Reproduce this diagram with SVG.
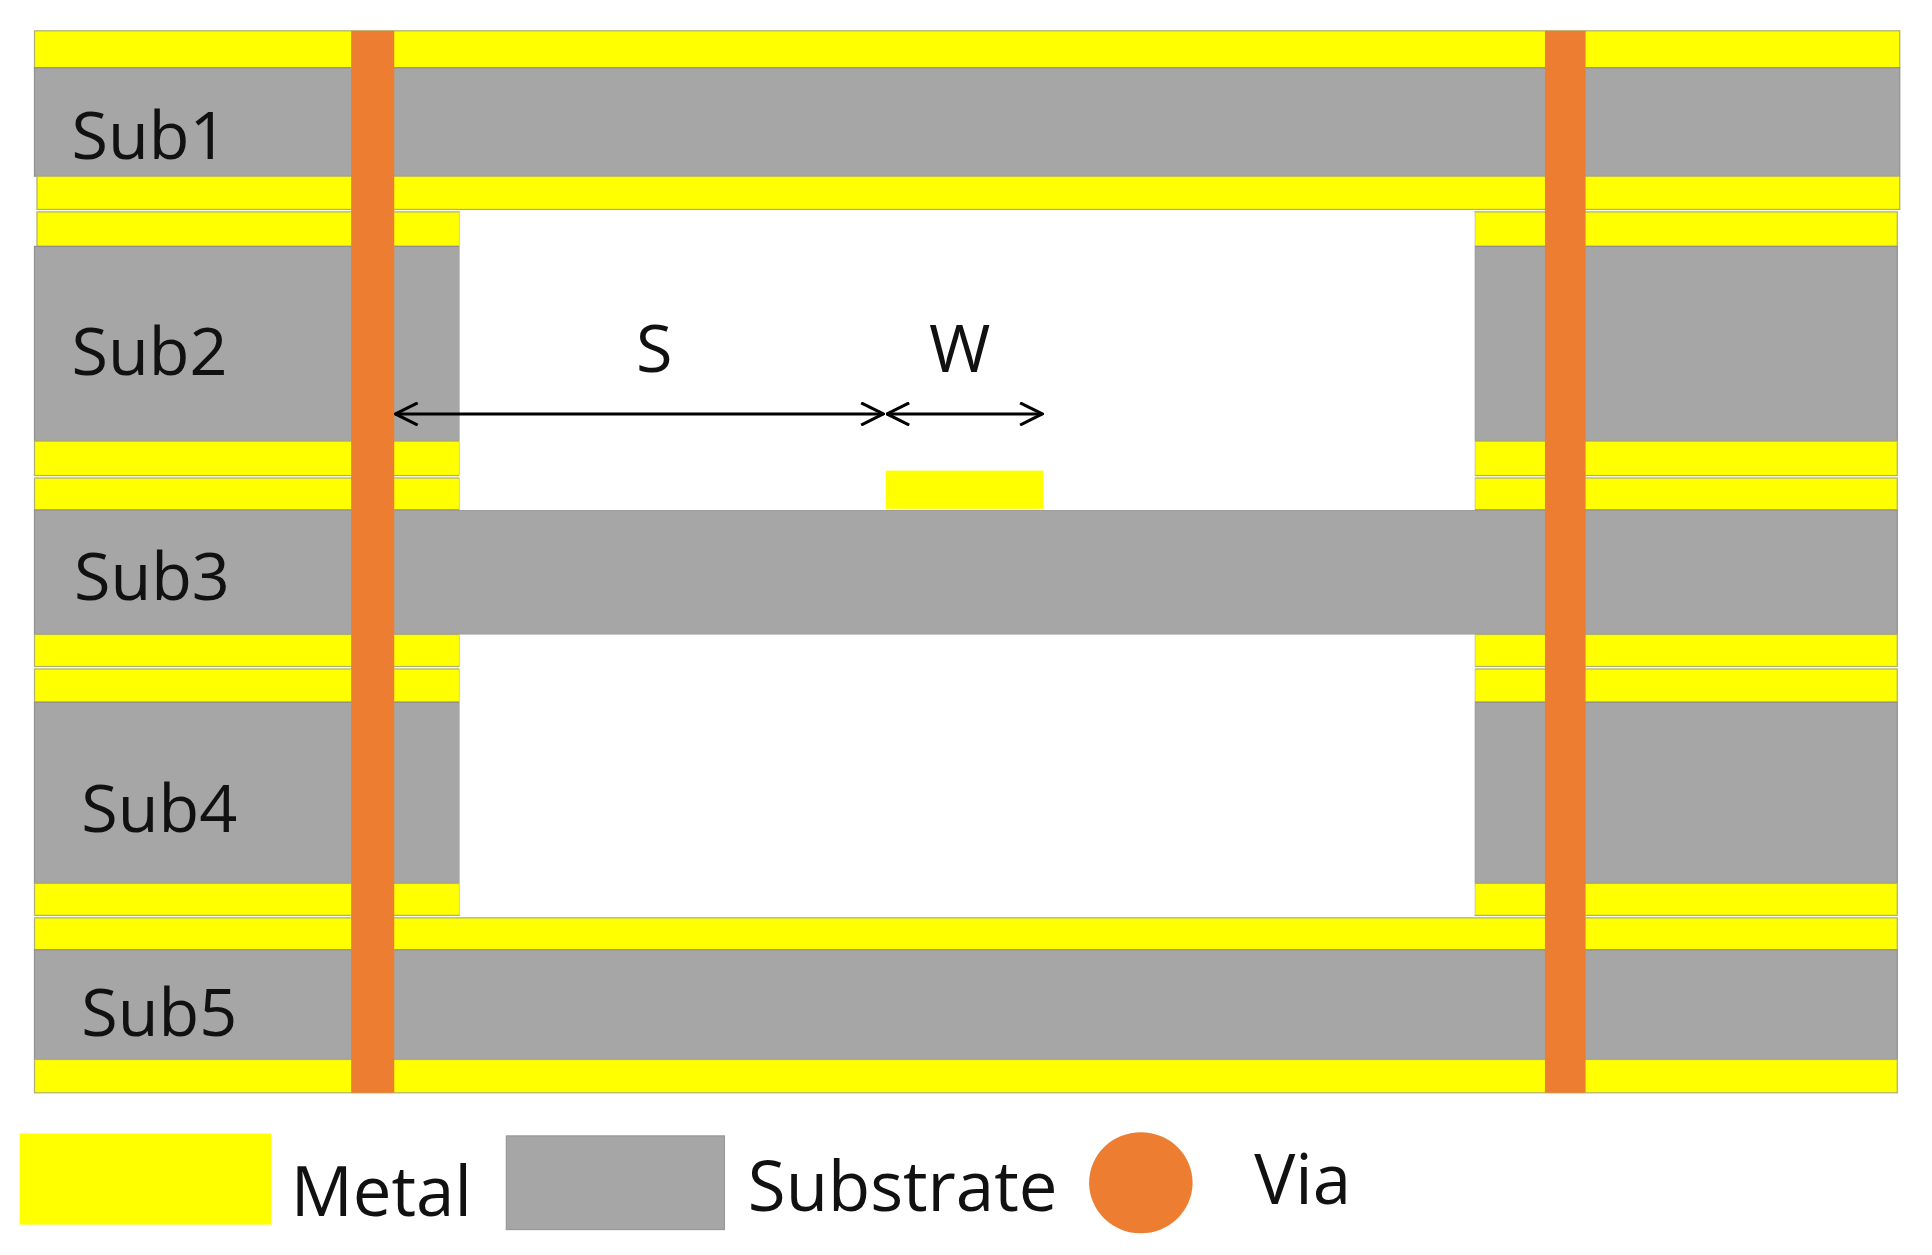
<svg xmlns="http://www.w3.org/2000/svg" width="1932" height="1255" viewBox="0 0 1932 1255">
<style>
.m{fill:#ffff00;stroke:#b0b070;stroke-width:1}
.s{fill:#a6a6a6;stroke:#909090;stroke-width:1}
.v{fill:#ed7d31}
.t{font-family:"Open Sans","DejaVu Sans",sans-serif;fill:#111}
.a{stroke:#000;stroke-width:2.5;fill:none}
</style>
<defs>
<marker id="ah" viewBox="0 0 20 20" refX="19" refY="10" markerWidth="20" markerHeight="20" markerUnits="userSpaceOnUse" orient="auto-start-reverse">
<path d="M1,1 L19,10 L1,19" fill="none" stroke="#000" stroke-width="2.5"/>
</marker>
</defs>
<rect width="1932" height="1255" fill="#fff"/>
<g transform="scale(1.232)">
<g id="stack">
<rect class="m" x="28" y="25" width="1514" height="30"/>
<rect class="s" x="28" y="55" width="1514" height="88"/>
<rect class="m" x="30" y="143" width="1512" height="27"/>
<rect class="m" x="30" y="172" width="343" height="28"/>
<rect class="m" x="1197" y="172" width="343" height="28"/>
<rect class="s" x="28" y="200" width="345" height="158"/>
<rect class="s" x="1197" y="200" width="343" height="158"/>
<rect class="m" x="28" y="358" width="345" height="28"/>
<rect class="m" x="1197" y="358" width="343" height="28"/>
<rect class="m" x="28" y="388" width="345" height="26"/>
<rect class="m" x="1197" y="388" width="343" height="26"/>
<rect class="s" x="28" y="414" width="1512" height="101"/>
<rect class="m" x="28" y="515" width="345" height="26"/>
<rect class="m" x="1197" y="515" width="343" height="26"/>
<rect class="m" x="28" y="543" width="345" height="27"/>
<rect class="m" x="1197" y="543" width="343" height="27"/>
<rect class="s" x="28" y="570" width="345" height="147"/>
<rect class="s" x="1197" y="570" width="343" height="147"/>
<rect class="m" x="28" y="717" width="345" height="26"/>
<rect class="m" x="1197" y="717" width="343" height="26"/>
<rect class="m" x="28" y="745" width="1512" height="26"/>
<rect class="s" x="28" y="771" width="1512" height="89"/>
<rect class="m" x="28" y="860" width="1512" height="27"/>
<rect x="373" y="172" width="824" height="242" fill="#fff"/>
<rect x="373" y="515" width="824" height="228" fill="#fff"/>
<rect class="v" x="285" y="25" width="35" height="862"/>
<rect class="v" x="1254" y="25" width="33" height="862"/>
<rect x="719" y="382" width="128" height="31" fill="#ffff00"/>
</g>
<g id="labels" class="t" font-size="54">
<text x="58" y="129">Sub1</text>
<text x="58" y="304">Sub2</text>
<text x="60" y="487">Sub3</text>
<text x="66" y="675">Sub4</text>
<text x="66" y="841">Sub5</text>
<text x="531" y="302" text-anchor="middle">S</text>
<text x="779" y="302" text-anchor="middle">W</text>
</g>
<g id="connectors">
<line class="a" x1="321" y1="336" x2="717" y2="336" marker-start="url(#ah)" marker-end="url(#ah)"/>
<line class="a" x1="720" y1="336" x2="846" y2="336" marker-start="url(#ah)" marker-end="url(#ah)"/>
</g>
<g id="legend" class="t" font-size="56">
<rect x="16" y="920" width="204" height="74" fill="#ffff00"/>
<text x="236" y="987">Metal</text>
<rect x="411" y="922" width="177" height="76" fill="#a6a6a6" stroke="#999"/>
<text x="607" y="983">Substrate</text>
<ellipse class="v" cx="926" cy="960" rx="42" ry="41"/>
<text x="1018" y="977">Via</text>
</g>
</g>
</svg>
